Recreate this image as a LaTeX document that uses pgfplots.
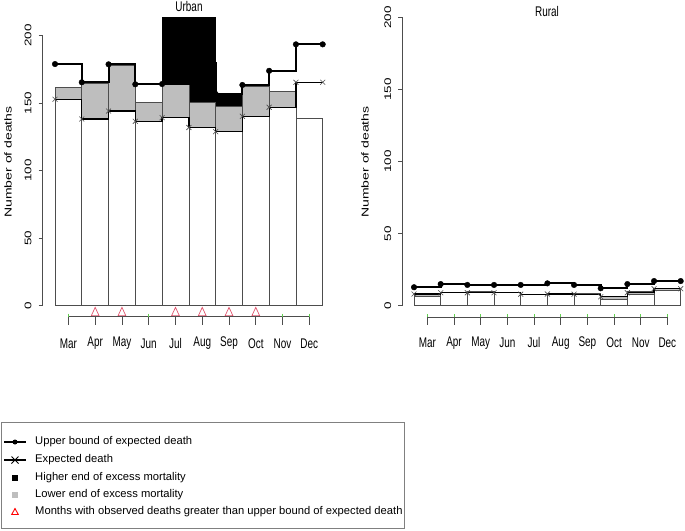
\documentclass[border=0pt]{standalone}
\usepackage{pgfplots}
\pgfplotsset{compat=1.18}
\usepackage{pgfplotstable}
\usepackage{fontspec}
\setmainfont{Liberation Sans}
\newfontfamily\narrowf[FakeStretch=0.71]{Liberation Sans}
\newfontfamily\widef[FakeStretch=1.4]{Liberation Sans}
\definecolor{rgrey}{HTML}{BEBEBE}
\definecolor{rred}{HTML}{DF536B}
\definecolor{edge}{HTML}{4D4D4D}
\definecolor{rgreen}{HTML}{61D04F}

\pgfplotstableread{
x white grey black
0.5 152.9 161.5 0
1.5 138.3 164.7 165.5
2.5 144.2 177.8 0
3.5 136.6 150.4 0
4.5 139.3 163.7 213.6
5.5 132.0 150.7 213.6
6.5 128.9 147.9 156.8
7.5 140.3 162.2 0
8.5 147.0 158.5 0
9.5 138.5 138.5 0
}\urbanbars

\pgfplotstableread{
x exp up
0 152.9 179.0
1 138.3 165.5
2 144.2 178.8
3 136.6 164.0
4 139.3 164.2
5 132.0 180.0
6 128.9 156.8
7 140.3 163.5
8 147.0 174.0
9 165.5 193.6
10 165.5 193.6
}\urbanlines

\pgfplotstableread{
x white grey
0.5 6.7 8.1
1.5 9.0 9.0
2.5 9.0 9.7
3.5 9.0 9.0
4.5 8.0 8.0
5.5 8.1 8.1
6.5 8.0 8.5
7.5 4.4 6.2
8.5 8.1 9.7
9.5 11.0 12.1
}\ruralbars

\pgfplotstableread{
x exp up
0 8.1 12.8
1 9.0 15.0
2 9.0 14.4
3 9.0 14.4
4 8.0 14.4
5 8.1 15.5
6 8.0 14.4
7 6.2 12.1
8 9.0 15.0
9 11.8 17.1
10 11.8 17.1
}\rurallines

\pgfplotsset{
  panel/.style={
    scale only axis, clip=false,
    hide x axis, axis y line*=left,
    ymin=0, ymax=200, ytick={0,50,100,150,200},
    tick align=outside, major tick length=4pt,
    axis line style={edge, line width=0.8pt},
    every tick/.style={edge, line width=0.8pt},
    /pgf/number format/assume math mode=true,
    yticklabel style={rotate=90, anchor=south, inner sep=0pt, yshift=7pt,
      font=\widef\fontsize{9.6}{11}\selectfont},
  },
  bars/.style={ybar, bar width=1, bar shift=0pt, draw=edge, line width=0.6pt},
  expline/.style={const plot, draw=black, line width=1.3pt, mark=x, mark size=3.5pt,
    mark options={draw=edge, line width=0.6pt}},
  upline/.style={const plot, draw=black, line width=2pt, mark=*, mark size=2.8pt,
    mark options={fill=black, draw=black, line width=0.4pt}},
}
\newcommand{\mfont}{\narrowf\fontsize{14}{16}\selectfont}
% month tick: #1 x, #2 axis-line y, #3 tick end y, #4 label y, #5 label
\newcommand{\mtick}[5]{%
  \draw[edge, line width=0.8pt] (axis cs:#1,#2) -- (axis cs:#1,#3);
  \node[font=\mfont, inner sep=0pt] at (axis cs:#1,#4) {#5};}

\begin{document}
\begin{tikzpicture}
\useasboundingbox (0,0) rectangle (685pt,-530pt);

% ---------------- Urban ----------------
\begin{axis}[panel, at={(42.7pt,-305.7pt)}, anchor=south west,
  width=280pt, height=270pt, xmin=-0.46, xmax=10]
\addplot[bars, fill=black, draw=black] table[x=x,y=black]{\urbanbars};
\addplot[bars, fill=rgrey] table[x=x,y=grey]{\urbanbars};
\addplot[bars, fill=white] table[x=x,y=white]{\urbanbars};
\addplot[expline] table[x=x,y=exp]{\urbanlines};
\addplot[upline] table[x=x,y=up]{\urbanlines};
\addplot[only marks, mark=triangle, mark size=4.4pt, mark options={draw=rred, line width=0.7pt, yscale=1.25}]
  coordinates {(1.5,-5.3) (2.5,-5.3) (4.5,-5.3) (5.5,-5.3) (6.5,-5.3) (7.5,-5.3)};
\addplot[only marks, mark=|, mark size=1.5pt, mark options={draw=rgreen, line width=0.6pt}]
  coordinates {(0.5,-7) (3.5,-7) (8.5,-7) (9.5,-7)};
\draw[edge, line width=0.8pt] (axis cs:0.5,-8.1) -- (axis cs:9.5,-8.1);
\mtick{0.5}{-8.1}{-14.3}{-27.9}{Mar}
\mtick{1.5}{-8.1}{-14.3}{-27.9}{Apr}
\mtick{2.5}{-8.1}{-14.3}{-27.9}{May}
\mtick{3.5}{-8.1}{-14.3}{-27.9}{Jun}
\mtick{4.5}{-8.1}{-14.3}{-27.9}{Jul}
\mtick{5.5}{-8.1}{-14.3}{-27.9}{Aug}
\mtick{6.5}{-8.1}{-14.3}{-27.9}{Sep}
\mtick{7.5}{-8.1}{-14.3}{-27.9}{Oct}
\mtick{8.5}{-8.1}{-14.3}{-27.9}{Nov}
\mtick{9.5}{-8.1}{-14.3}{-27.9}{Dec}
\end{axis}

% ---------------- Rural ----------------
\begin{axis}[panel, at={(402.3pt,-305.7pt)}, anchor=south west,
  width=278.4pt, height=288.4pt, xmin=-0.44, xmax=10]
\addplot[bars, fill=rgrey] table[x=x,y=grey]{\ruralbars};
\addplot[bars, fill=white] table[x=x,y=white]{\ruralbars};
\addplot[expline] table[x=x,y=exp]{\rurallines};
\addplot[upline] table[x=x,y=up]{\rurallines};
\addplot[only marks, mark=|, mark size=1.5pt, mark options={draw=rgreen, line width=0.6pt}]
  coordinates {(0.5,-6.8) (1.5,-6.8) (2.5,-6.8) (3.5,-6.8) (4.5,-6.8) (5.5,-6.8) (6.5,-6.8) (7.5,-6.8) (8.5,-6.8) (9.5,-6.8)};
\draw[edge, line width=0.8pt] (axis cs:0.5,-7.84) -- (axis cs:9.5,-7.84);
\mtick{0.5}{-7.84}{-13.4}{-25.8}{Mar}
\mtick{1.5}{-7.84}{-13.4}{-25.8}{Apr}
\mtick{2.5}{-7.84}{-13.4}{-25.8}{May}
\mtick{3.5}{-7.84}{-13.4}{-25.8}{Jun}
\mtick{4.5}{-7.84}{-13.4}{-25.8}{Jul}
\mtick{5.5}{-7.84}{-13.4}{-25.8}{Aug}
\mtick{6.5}{-7.84}{-13.4}{-25.8}{Sep}
\mtick{7.5}{-7.84}{-13.4}{-25.8}{Oct}
\mtick{8.5}{-7.84}{-13.4}{-25.8}{Nov}
\mtick{9.5}{-7.84}{-13.4}{-25.8}{Dec}
\end{axis}

% titles and y labels
\node[font=\mfont, inner sep=0pt] at (189pt,-6.7pt) {Urban};
\node[font=\mfont, inner sep=0pt] at (547pt,-11pt) {Rural};
\node[rotate=90, inner sep=0pt, font=\widef\fontsize{10}{12}\selectfont] at (8pt,-162pt) {Number of deaths};
\node[rotate=90, inner sep=0pt, font=\widef\fontsize{10}{12}\selectfont] at (365pt,-162pt) {Number of deaths};

% legend
\draw[gray, line width=0.8pt] (1.7pt,-422pt) rectangle (404pt,-528pt);
\begin{scope}[every node/.style={anchor=west, inner sep=0pt, font=\fontsize{11.2}{13}\selectfont}]
\draw[black, line width=1.5pt] (4pt,-442pt) -- (26pt,-442pt);
\fill[black] (15pt,-442pt) circle (2.5pt);
\node at (35pt,-442pt) {Upper bound of expected death};
\draw[black, line width=1.5pt] (4pt,-460pt) -- (26pt,-460pt);
\draw[black, line width=0.8pt] (11.5pt,-456.5pt) -- (18.5pt,-463.5pt) (11.5pt,-463.5pt) -- (18.5pt,-456.5pt);
\node at (35pt,-460pt) {Expected death};
\fill[black] (12.2pt,-475.2pt) rectangle (17.8pt,-480.8pt);
\node at (35pt,-478pt) {Higher end of excess mortality};
\fill[rgrey] (12.2pt,-492.2pt) rectangle (17.8pt,-497.8pt);
\node at (35pt,-495pt) {Lower end of excess mortality};
\draw[red, line width=0.9pt] (15pt,-508.5pt) -- (18.3pt,-514.5pt) -- (11.7pt,-514.5pt) -- cycle;
\node at (35pt,-512pt) {Months with observed deaths greater than upper bound of expected death};
\end{scope}
\end{tikzpicture}
\end{document}
